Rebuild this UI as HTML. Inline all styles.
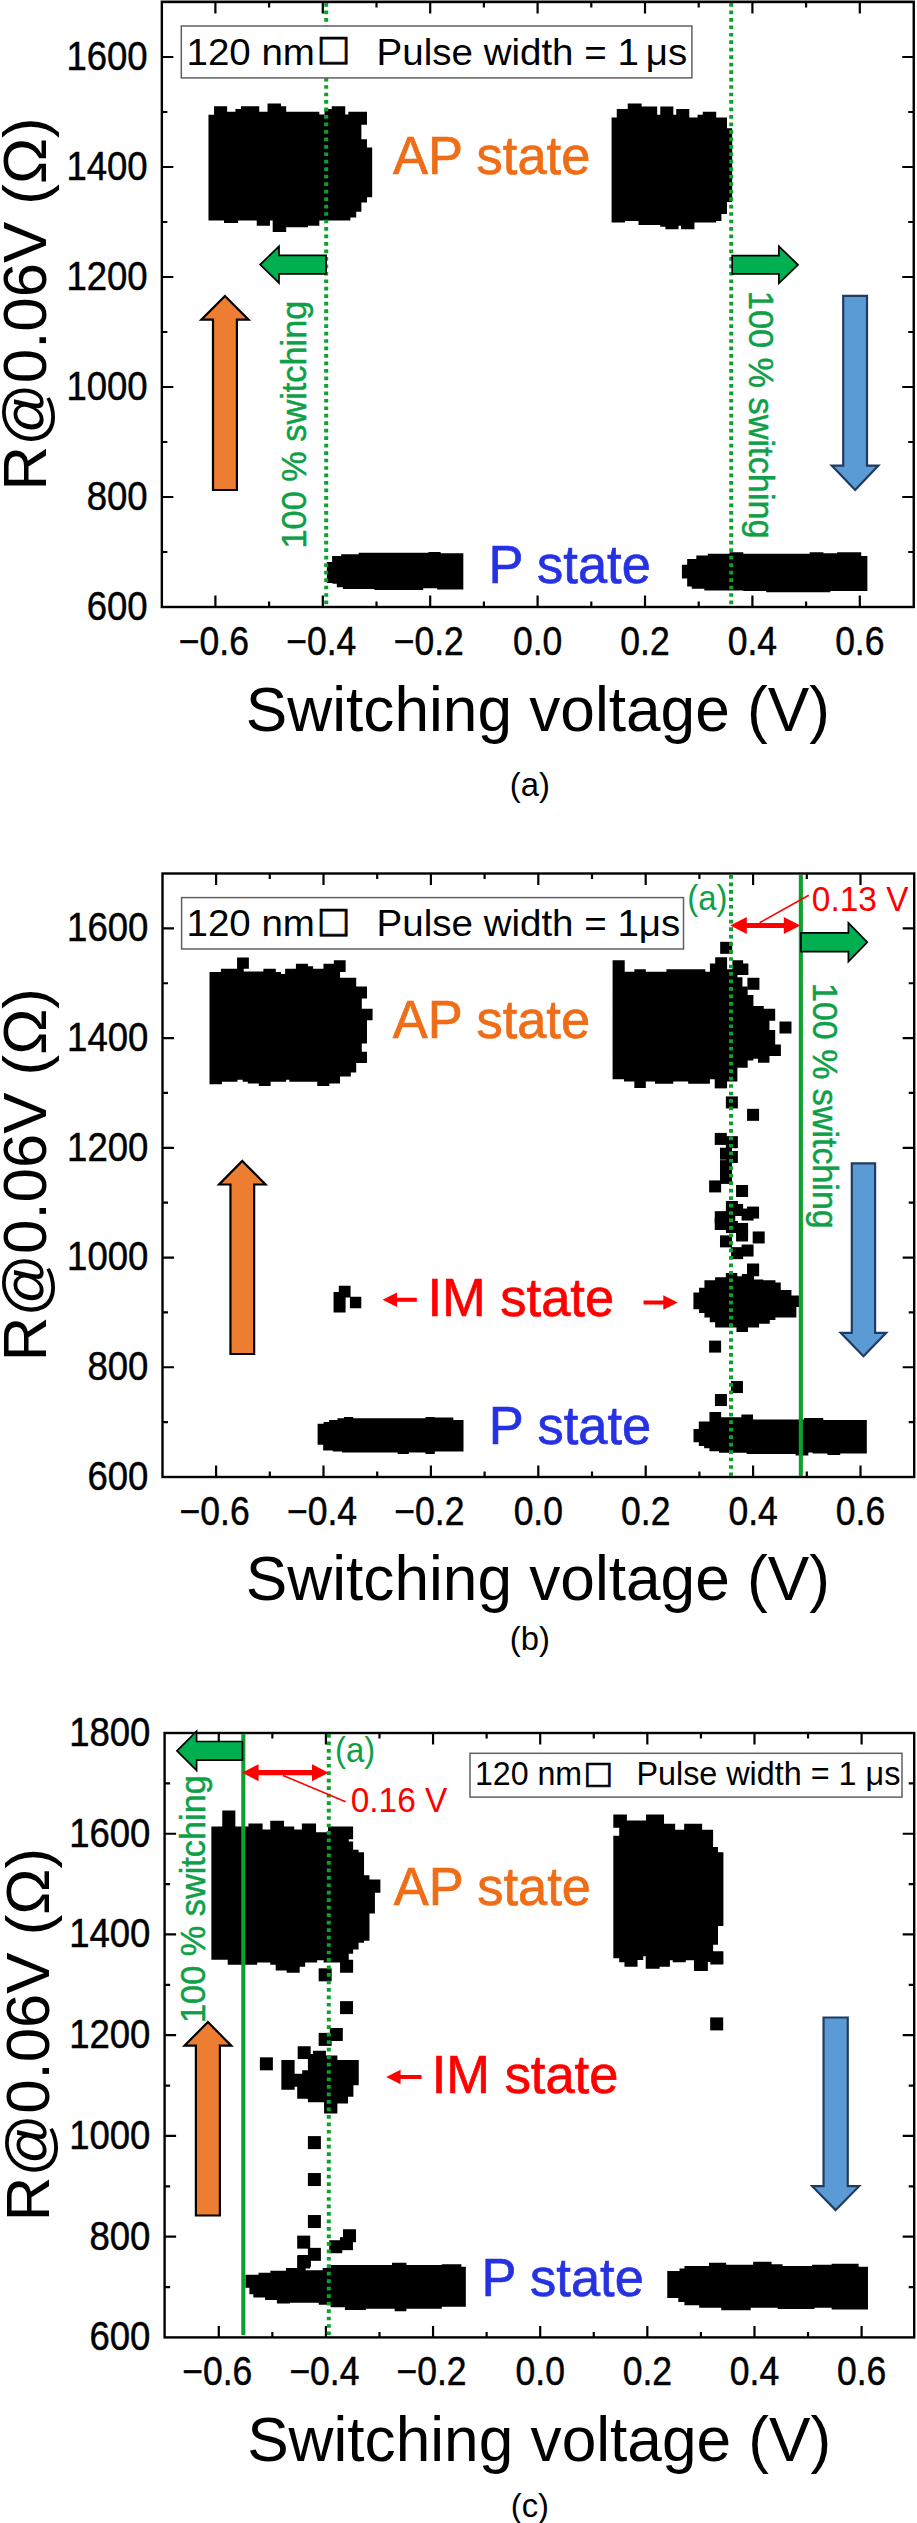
<!DOCTYPE html>
<html><head><meta charset="utf-8"><title>Switching voltage figure</title>
<style>html,body{margin:0;padding:0;background:#fff}svg{display:block}text{font-family:"Liberation Sans", "DejaVu Sans", sans-serif}</style>
</head><body>
<svg width="917" height="2523" viewBox="0 0 917 2523">
<rect width="917" height="2523" fill="#fff"/>
<rect x="160.6" y="0" width="754.3" height="1.2" fill="#aaa"/>
<g id="panel-a">
<polygon points="208.47,114.87 214.06,114.87 214.06,106.16 227.12,106.16 227.12,111.76 235.41,111.76 235.41,109.06 241,109.06 241,106.16 259.24,106.16 259.24,111.76 267.52,111.76 267.52,103.47 280.99,103.47 280.99,106.16 286.17,106.16 286.17,111.76 319.33,111.76 319.33,114.45 324.51,114.45 324.51,109.06 331.76,109.06 331.76,106.16 345.23,106.16 345.23,114.45 348.34,114.45 348.34,111.76 366.99,111.76 366.99,124.81 361.39,124.81 361.39,139.32 366.99,139.32 366.99,147.6 372.17,147.6 372.17,197.34 366.99,197.34 366.99,202.52 361.39,202.52 361.39,211.84 356.21,211.84 356.21,217.43 350.41,217.43 350.41,220.54 319.33,220.54 319.33,225.72 307.93,225.72 307.93,227.17 286.17,227.17 286.17,231.94 272.7,231.94 272.7,220.54 270.01,220.54 270.01,225.72 256.75,225.72 256.75,220.54 238.1,220.54 238.1,223.03 224.01,223.03 224.01,220.54 208.47,220.54" fill="#000"/>
<polygon points="611.58,117.56 616.76,117.56 616.76,109.06 627.74,109.06 627.74,103.47 641.62,103.47 641.62,106.58 657.16,106.58 657.16,114.87 660.27,114.87 660.27,106.58 673.33,106.58 673.33,114.87 676.23,114.87 676.23,109.06 689.28,109.06 689.28,117.56 697.57,117.56 697.57,114.87 702.75,114.87 702.75,111.76 716.22,111.76 716.22,117.56 726.99,117.56 726.99,128.33 732.17,128.33 732.17,201.89 726.99,201.89 726.99,213.91 721.4,213.91 721.4,220.96 716.22,220.96 716.22,222.62 694.46,222.62 694.46,229.25 680.99,229.25 680.99,225.72 678.51,225.72 678.51,229.25 665.45,229.25 665.45,226.76 660.27,226.76 660.27,225.1 638.51,225.1 638.51,220.96 625.05,220.96 625.05,222.62 611.58,222.62" fill="#000"/>
<polygon points="326.87,562.05 332.1,562.05 332.1,555.94 341.17,555.94 341.17,554.19 358.62,554.19 358.62,552.8 428.42,552.8 428.42,552.1 440.63,552.1 440.63,553.32 463.32,553.32 463.32,589.44 437.14,589.44 437.14,588.22 423.18,588.22 423.18,589.96 374.33,589.96 374.33,589.09 342.92,589.09 342.92,587.35 336.81,587.35 336.81,583.86 332.45,583.86 332.45,582.98 326.87,582.98" fill="#000"/>
<polygon points="681.91,564.77 687.17,564.77 687.17,559.04 696.33,559.04 696.33,555.61 707.78,555.61 707.78,553.78 729.54,553.78 729.54,552.17 743.28,552.17 743.28,553.78 809.68,553.78 809.68,552.17 823.42,552.17 823.42,553.32 837.16,553.32 837.16,552.17 861.21,552.17 861.21,556.07 867.39,556.07 867.39,591.1 830.29,591.1 830.29,592.25 766.18,592.25 766.18,591.1 743.28,591.1 743.28,590.42 704.35,590.42 704.35,588.81 691.75,588.81 691.75,586.52 687.17,586.52 687.17,578.51 681.91,578.51" fill="#000"/>
<path d="M215.4 607v-11.5M215.4 2v11.5M269.1 607v-5.5M269.1 2v5.5M322.8 607v-11.5M322.8 2v11.5M376.5 607v-5.5M376.5 2v5.5M430.2 607v-11.5M430.2 2v11.5M483.9 607v-5.5M483.9 2v5.5M537.6 607v-11.5M537.6 2v11.5M591.3 607v-5.5M591.3 2v5.5M645 607v-11.5M645 2v11.5M698.7 607v-5.5M698.7 2v5.5M752.4 607v-11.5M752.4 2v11.5M806.1 607v-5.5M806.1 2v5.5M859.8 607v-11.5M859.8 2v11.5M161.85 57h11.5M913.75 57h-11.5M161.85 167h11.5M913.75 167h-11.5M161.85 277h11.5M913.75 277h-11.5M161.85 387h11.5M913.75 387h-11.5M161.85 497h11.5M913.75 497h-11.5M161.85 112h5.5M913.75 112h-5.5M161.85 222h5.5M913.75 222h-5.5M161.85 332h5.5M913.75 332h-5.5M161.85 442h5.5M913.75 442h-5.5M161.85 552h5.5M913.75 552h-5.5" stroke="#000" stroke-width="2.2" fill="none"/>
<rect x="161.85" y="2" width="751.9" height="605" fill="none" stroke="#000" stroke-width="2.4"/>
<text transform="translate(147.65 69.9) scale(0.915 1)" font-size="39.9" text-anchor="end" stroke="#000" stroke-width="0.5">1600</text>
<text transform="translate(147.65 179.9) scale(0.915 1)" font-size="39.9" text-anchor="end" stroke="#000" stroke-width="0.5">1400</text>
<text transform="translate(147.65 289.9) scale(0.915 1)" font-size="39.9" text-anchor="end" stroke="#000" stroke-width="0.5">1200</text>
<text transform="translate(147.65 399.9) scale(0.915 1)" font-size="39.9" text-anchor="end" stroke="#000" stroke-width="0.5">1000</text>
<text transform="translate(147.65 509.9) scale(0.915 1)" font-size="39.9" text-anchor="end" stroke="#000" stroke-width="0.5">800</text>
<text transform="translate(147.65 619.9) scale(0.915 1)" font-size="39.9" text-anchor="end" stroke="#000" stroke-width="0.5">600</text>
<text transform="translate(213.9 654.8) scale(0.89 1)" font-size="39.9" text-anchor="middle" stroke="#000" stroke-width="0.5">−0.6</text>
<text transform="translate(321.3 654.8) scale(0.89 1)" font-size="39.9" text-anchor="middle" stroke="#000" stroke-width="0.5">−0.4</text>
<text transform="translate(428.7 654.8) scale(0.89 1)" font-size="39.9" text-anchor="middle" stroke="#000" stroke-width="0.5">−0.2</text>
<text transform="translate(537.6 654.8) scale(0.89 1)" font-size="39.9" text-anchor="middle" stroke="#000" stroke-width="0.5">0.0</text>
<text transform="translate(645 654.8) scale(0.89 1)" font-size="39.9" text-anchor="middle" stroke="#000" stroke-width="0.5">0.2</text>
<text transform="translate(752.4 654.8) scale(0.89 1)" font-size="39.9" text-anchor="middle" stroke="#000" stroke-width="0.5">0.4</text>
<text transform="translate(859.8 654.8) scale(0.89 1)" font-size="39.9" text-anchor="middle" stroke="#000" stroke-width="0.5">0.6</text>
<text x="537.9" y="730.8" font-size="62.2" text-anchor="middle">Switching voltage (V)</text>
<text transform="translate(45.6 303.9) rotate(-90)" font-size="61.75" text-anchor="middle">R@0.06V (Ω)</text>
<text x="529.9" y="796" font-size="32.8" text-anchor="middle">(a)</text>
<line x1="326.2" y1="3" x2="326.2" y2="605" stroke="#0ea02d" stroke-width="4" stroke-dasharray="3.7 3.77"/>
<line x1="731.2" y1="3" x2="731.2" y2="605" stroke="#0ea02d" stroke-width="4" stroke-dasharray="3.7 3.77"/>
<rect x="181.3" y="26" width="510.6" height="51.9" fill="#fff" stroke="#606060" stroke-width="1.5"/>
<text transform="translate(186.5 64.7) scale(1.03 1)" font-size="37.4">120 nm</text>
<text x="317" y="59.92" font-size="35.46" stroke="#000" stroke-width="0.8" style="font-family:'DejaVu Sans',sans-serif">□</text>
<text transform="translate(376.6 64.7) scale(1.03 1)" font-size="37.4">Pulse width = 1 <tspan dx="-3.6">μs</tspan></text>
<polygon points="260.2,264.6 279,282.9 279,273.8 326.1,273.8 326.1,255.4 279,255.4 279,246.3" fill="#00b050" stroke="#000" stroke-width="1.7" stroke-linejoin="miter"/>
<polygon points="798,264.8 778.9,283.3 778.9,273.9 732.2,273.9 732.2,255.7 778.9,255.7 778.9,246.3" fill="#00b050" stroke="#000" stroke-width="1.7" stroke-linejoin="miter"/>
<polygon points="224.95,296 248.55,319.7 236.9,319.7 236.9,490 213,490 213,319.7 201.35,319.7" fill="#ed7d31" stroke="#000" stroke-width="2.2" stroke-linejoin="miter"/>
<polygon points="855.1,489.95 878.4,465.6 867,465.6 867,295.9 843.2,295.9 843.2,465.6 831.8,465.6" fill="#5b9bd5" stroke="#1f3c60" stroke-width="2.2" stroke-linejoin="miter"/>
<text transform="translate(306 548.5) rotate(-90) scale(0.972 1)" font-size="35.3" fill="#0f9f48" stroke="#0f9f48" stroke-width="0.5" text-anchor="start">100 % switching</text>
<text transform="translate(748.5 290.8) rotate(90) scale(0.972 1)" font-size="35.3" fill="#0f9f48" stroke="#0f9f48" stroke-width="0.5" text-anchor="start">100 % switching</text>
<text transform="translate(393 174.1) scale(0.968 1)" font-size="54.2" fill="#ee6d16" stroke="#ee6d16" stroke-width="0.7">AP state</text>
<text transform="translate(488.5 583.4) scale(0.968 1)" font-size="54.2" fill="#2632e2" stroke="#2632e2" stroke-width="0.7">P state</text>
</g>
<g id="panel-b">
<polygon points="209.5,971.94 220.9,971.94 220.9,968.83 237.06,968.83 237.06,957.43 248.87,957.43 248.87,968.83 243.69,968.83 243.69,971.52 263.38,971.52 263.38,968.83 275.81,968.83 275.81,971.94 280.99,971.94 280.99,974.01 285.14,974.01 285.14,968.83 295.91,968.83 295.91,963.65 307.93,963.65 307.93,966.34 313.11,966.34 313.11,968.83 323.47,968.83 323.47,963.65 333.83,963.65 333.83,960.13 345.64,960.13 345.64,971.94 340.05,971.94 340.05,977.74 356.21,977.74 356.21,986.44 366.99,986.44 366.99,998.46 361.8,998.46 361.8,1008.82 372.58,1008.82 372.58,1020.22 366.99,1020.22 366.99,1043.43 361.8,1043.43 361.8,1051.71 366.99,1051.71 366.99,1063.11 356.21,1063.11 356.21,1072.43 350.82,1072.43 350.82,1076.58 340.05,1076.58 340.05,1083.42 329.27,1083.42 329.27,1085.9 317.25,1085.9 317.25,1081.76 289.28,1081.76 289.28,1079.69 286.17,1079.69 286.17,1081.76 270.63,1081.76 270.63,1085.9 258.82,1085.9 258.82,1083.42 247.84,1083.42 247.84,1081.76 242.66,1081.76 242.66,1079.69 237.48,1079.69 237.48,1081.76 221.94,1081.76 221.94,1084.25 209.5,1084.25" fill="#000"/>
<polygon points="612.59,960.19 624.73,960.19 624.73,971.64 634.35,971.64 634.35,969.35 645.8,969.35 645.8,971.64 666.41,971.64 666.41,969.35 705.34,969.35 705.34,971.64 709.92,971.64 709.92,963.62 715.18,963.62 715.18,957.21 727.09,957.21 727.09,969.35 732.36,969.35 732.36,960.19 743.12,960.19 743.12,963.62 748.39,963.62 748.39,975.07 737.39,975.07 737.39,977.36 742.43,977.36 742.43,986.52 747.7,986.52 747.7,995 753.42,995 753.42,1005.99 763.73,1005.99 763.73,1008.73 775.18,1008.73 775.18,1020.87 769.45,1020.87 769.45,1030.03 775.18,1030.03 775.18,1044.46 780.9,1044.46 780.9,1055.91 769.45,1055.91 769.45,1062.78 758,1062.78 758,1058.65 753.42,1058.65 753.42,1060.49 747.7,1060.49 747.7,1067.81 737.39,1067.81 737.39,1081.55 727.09,1081.55 727.09,1087.97 715.18,1087.97 715.18,1079.26 709.92,1079.26 709.92,1083.84 688.16,1083.84 688.16,1081.55 673.28,1081.55 673.28,1083.84 654.96,1083.84 654.96,1081.55 645.8,1081.55 645.8,1087.97 634.35,1087.97 634.35,1081.55 624.04,1081.55 624.04,1079.26 612.59,1079.26" fill="#000"/>
<rect x="720.17" y="941.82" width="12" height="12"/>
<rect x="747.42" y="977.77" width="12" height="12"/>
<rect x="779.48" y="1021.51" width="12" height="12"/>
<rect x="714.75" y="1076.38" width="12" height="12"/>
<rect x="725.87" y="1096.4" width="12" height="12"/>
<rect x="747.07" y="1108.84" width="12" height="12"/>
<rect x="714.75" y="1132.91" width="12" height="12"/>
<rect x="725.87" y="1136.18" width="12" height="12"/>
<rect x="719.99" y="1147.7" width="12" height="12"/>
<rect x="725.87" y="1150.97" width="12" height="12"/>
<rect x="719.99" y="1160.13" width="12" height="12"/>
<rect x="719.99" y="1171.91" width="12" height="12"/>
<rect x="709.12" y="1180.41" width="12" height="12"/>
<rect x="736.08" y="1184.99" width="12" height="12"/>
<rect x="725.87" y="1200.96" width="12" height="12"/>
<rect x="731.11" y="1203.97" width="12" height="12"/>
<rect x="741.58" y="1208.55" width="12" height="12"/>
<rect x="747.07" y="1206.58" width="12" height="12"/>
<rect x="714.75" y="1211.16" width="12" height="12"/>
<rect x="714.75" y="1217.97" width="12" height="12"/>
<rect x="723.26" y="1211.82" width="12" height="12"/>
<rect x="725.87" y="1220.98" width="12" height="12"/>
<rect x="736.08" y="1222.94" width="12" height="12"/>
<rect x="736.08" y="1229.48" width="12" height="12"/>
<rect x="752.7" y="1231.45" width="12" height="12"/>
<rect x="719.99" y="1235.37" width="12" height="12"/>
<rect x="731.11" y="1247.15" width="12" height="12"/>
<rect x="741.58" y="1244.53" width="12" height="12"/>
<rect x="747.07" y="1263.51" width="12" height="12"/>
<polygon points="693.44,1292.4 699.08,1292.4 699.08,1287.82 704.43,1287.82 704.43,1280.19 715.11,1280.19 715.11,1277.14 725.8,1277.14 725.8,1273.02 737.25,1273.02 737.25,1276.37 741.83,1276.37 741.83,1274.08 747.18,1274.08 747.18,1264.16 759.08,1264.16 759.08,1276.37 754.05,1276.37 754.05,1279.43 763.21,1279.43 763.21,1280.19 775.42,1280.19 775.42,1282.48 780.76,1282.48 780.76,1290.11 791.45,1290.11 791.45,1295.46 799.08,1295.46 799.08,1306.91 796.34,1306.91 796.34,1317.6 775.42,1317.6 775.42,1319.89 769.77,1319.89 769.77,1323.7 759.08,1323.7 759.08,1327.52 747.94,1327.52 747.94,1332.1 736.49,1332.1 736.49,1327.52 715.11,1327.52 715.11,1322.18 709.77,1322.18 709.77,1317.6 704.43,1317.6 704.43,1313.02 699.08,1313.02 699.08,1309.2 693.44,1309.2" fill="#000"/>
<rect x="709.11" y="1340.6" width="12" height="12"/>
<rect x="730.95" y="1381.06" width="12" height="12"/>
<rect x="714.92" y="1394.04" width="12" height="12"/>
<polygon points="317.61,1423.74 323.54,1423.74 323.54,1421.88 329.1,1421.88 329.1,1420.03 337.44,1420.03 337.44,1418.17 343.93,1418.17 343.93,1416.88 353.2,1416.88 353.2,1418.17 425.5,1418.17 425.5,1416.88 434.77,1416.88 434.77,1417.62 453.31,1417.62 453.31,1420.03 463.51,1420.03 463.51,1451.54 434.77,1451.54 434.77,1453.95 425.5,1453.95 425.5,1452.47 408.82,1452.47 408.82,1453.95 397.7,1453.95 397.7,1452.47 342.08,1452.47 342.08,1451.54 332.81,1451.54 332.81,1450.62 323.17,1450.62 323.17,1444.68 317.61,1444.68" fill="#000"/>
<polygon points="693.51,1429.02 698.82,1429.02 698.82,1421.58 709.45,1421.58 709.45,1412.01 721.15,1412.01 721.15,1417.33 741.35,1417.33 741.35,1414.56 753.05,1414.56 753.05,1419.45 804.08,1419.45 804.08,1417.97 823.22,1417.97 823.22,1420.09 866.81,1420.09 866.81,1453.48 840.23,1453.48 840.23,1454.97 827.47,1454.97 827.47,1453.48 812.59,1453.48 812.59,1452.42 808.34,1452.42 808.34,1455.6 795.58,1455.6 795.58,1454.12 746.67,1454.12 746.67,1452.84 719.02,1452.84 719.02,1451.35 709.45,1451.35 709.45,1448.16 704.14,1448.16 704.14,1446.04 698.82,1446.04 698.82,1442.21 693.51,1442.21" fill="#000"/>
<polygon points="333.55,1291.98 338.79,1291.98 338.79,1285.7 350.57,1285.7 350.57,1296.83 361.3,1296.83 361.3,1308.21 349.91,1308.21 349.91,1297.48 345.59,1297.48 345.59,1312.53 333.55,1312.53" fill="#000"/>
<path d="M216.1 1477v-11.5M216.1 873.5v11.5M269.8 1477v-5.5M269.8 873.5v5.5M323.5 1477v-11.5M323.5 873.5v11.5M377.2 1477v-5.5M377.2 873.5v5.5M430.9 1477v-11.5M430.9 873.5v11.5M484.6 1477v-5.5M484.6 873.5v5.5M538.3 1477v-11.5M538.3 873.5v11.5M592 1477v-5.5M592 873.5v5.5M645.7 1477v-11.5M645.7 873.5v11.5M699.4 1477v-5.5M699.4 873.5v5.5M753.1 1477v-11.5M753.1 873.5v11.5M806.8 1477v-5.5M806.8 873.5v5.5M860.5 1477v-11.5M860.5 873.5v11.5M162.5 928.36h11.5M914.2 928.36h-11.5M162.5 1038.09h11.5M914.2 1038.09h-11.5M162.5 1147.82h11.5M914.2 1147.82h-11.5M162.5 1257.55h11.5M914.2 1257.55h-11.5M162.5 1367.27h11.5M914.2 1367.27h-11.5M162.5 983.23h5.5M914.2 983.23h-5.5M162.5 1092.95h5.5M914.2 1092.95h-5.5M162.5 1202.68h5.5M914.2 1202.68h-5.5M162.5 1312.41h5.5M914.2 1312.41h-5.5M162.5 1422.14h5.5M914.2 1422.14h-5.5" stroke="#000" stroke-width="2.2" fill="none"/>
<rect x="162.5" y="873.5" width="751.7" height="603.5" fill="none" stroke="#000" stroke-width="2.4"/>
<text transform="translate(148.3 941.26) scale(0.915 1)" font-size="39.9" text-anchor="end" stroke="#000" stroke-width="0.5">1600</text>
<text transform="translate(148.3 1050.99) scale(0.915 1)" font-size="39.9" text-anchor="end" stroke="#000" stroke-width="0.5">1400</text>
<text transform="translate(148.3 1160.72) scale(0.915 1)" font-size="39.9" text-anchor="end" stroke="#000" stroke-width="0.5">1200</text>
<text transform="translate(148.3 1270.45) scale(0.915 1)" font-size="39.9" text-anchor="end" stroke="#000" stroke-width="0.5">1000</text>
<text transform="translate(148.3 1380.17) scale(0.915 1)" font-size="39.9" text-anchor="end" stroke="#000" stroke-width="0.5">800</text>
<text transform="translate(148.3 1489.9) scale(0.915 1)" font-size="39.9" text-anchor="end" stroke="#000" stroke-width="0.5">600</text>
<text transform="translate(214.6 1524.8) scale(0.89 1)" font-size="39.9" text-anchor="middle" stroke="#000" stroke-width="0.5">−0.6</text>
<text transform="translate(322 1524.8) scale(0.89 1)" font-size="39.9" text-anchor="middle" stroke="#000" stroke-width="0.5">−0.4</text>
<text transform="translate(429.4 1524.8) scale(0.89 1)" font-size="39.9" text-anchor="middle" stroke="#000" stroke-width="0.5">−0.2</text>
<text transform="translate(538.3 1524.8) scale(0.89 1)" font-size="39.9" text-anchor="middle" stroke="#000" stroke-width="0.5">0.0</text>
<text transform="translate(645.7 1524.8) scale(0.89 1)" font-size="39.9" text-anchor="middle" stroke="#000" stroke-width="0.5">0.2</text>
<text transform="translate(753.1 1524.8) scale(0.89 1)" font-size="39.9" text-anchor="middle" stroke="#000" stroke-width="0.5">0.4</text>
<text transform="translate(860.5 1524.8) scale(0.89 1)" font-size="39.9" text-anchor="middle" stroke="#000" stroke-width="0.5">0.6</text>
<text x="537.9" y="1600.3" font-size="62.2" text-anchor="middle">Switching voltage (V)</text>
<text transform="translate(45.6 1174.65) rotate(-90)" font-size="61.75" text-anchor="middle">R@0.06V (Ω)</text>
<text x="529.9" y="1649.5" font-size="32.8" text-anchor="middle">(b)</text>
<line x1="731" y1="875" x2="731" y2="1476" stroke="#0ea02d" stroke-width="4" stroke-dasharray="3.7 3.77"/>
<line x1="800.85" y1="875" x2="800.85" y2="1476" stroke="#0ea02d" stroke-width="4.1"/>
<rect x="181.6" y="897.6" width="501.9" height="51.4" fill="#fff" stroke="#606060" stroke-width="1.5"/>
<text transform="translate(186.5 936.3) scale(1.03 1)" font-size="37.4">120 nm</text>
<text x="317" y="931.52" font-size="35.46" stroke="#000" stroke-width="0.8" style="font-family:'DejaVu Sans',sans-serif">□</text>
<text transform="translate(376.6 936.3) scale(1.03 1)" font-size="37.4">Pulse width = 1μs</text>
<polygon points="867.3,942.2 848.4,961.6 848.4,951.6 801,951.6 801,932.8 848.4,932.8 848.4,922.8" fill="#00b050" stroke="#000" stroke-width="1.7" stroke-linejoin="miter"/>
<polygon points="242.3,1160.9 265.5,1184.5 254.15,1184.5 254.15,1354 230.45,1354 230.45,1184.5 219.1,1184.5" fill="#ed7d31" stroke="#000" stroke-width="2.2" stroke-linejoin="miter"/>
<polygon points="863.45,1356.2 886.15,1332.8 875.1,1332.8 875.1,1163.3 851.8,1163.3 851.8,1332.8 840.75,1332.8" fill="#5b9bd5" stroke="#1f3c60" stroke-width="2.2" stroke-linejoin="miter"/>
<text transform="translate(813.2 983) rotate(90) scale(0.972 1)" font-size="35.0" fill="#0f9f48" stroke="#0f9f48" stroke-width="0.5" text-anchor="start">100 % switching</text>
<text transform="translate(392.8 1037.5) scale(0.968 1)" font-size="54.2" fill="#ee6d16" stroke="#ee6d16" stroke-width="0.7">AP state</text>
<text transform="translate(488.8 1444.4) scale(0.968 1)" font-size="54.2" fill="#2632e2" stroke="#2632e2" stroke-width="0.7">P state</text>
<text transform="translate(427.5 1316.3) scale(0.968 1)" font-size="54.2" fill="#ff0000" stroke="#ff0000" stroke-width="0.7">IM state</text>
<text transform="translate(687.2 909.8) scale(0.93 1)" font-size="35.4" fill="#0f9f48" text-anchor="start">(a)</text>
<text transform="translate(811.8 910.8) scale(0.955 1)" font-size="35" fill="#ff0000" text-anchor="start">0.13 V</text>
<path d="M416.8 1297.85H397V1292.6L382.6 1299.8L397 1307V1301.75H416.8z" fill="#ff0000"/>
<path d="M643.5 1300.55H663.3V1295.3L677.7 1302.5L663.3 1309.7V1304.45H643.5z" fill="#ff0000"/>
<path d="M730.2 925.5L746.8 917V922.9H783.8V917L800.4 925.5L783.8 934V928.1H746.8V934z" fill="#ff0000"/>
<line x1="759.6" y1="922.8" x2="808.8" y2="895.2" stroke="#ff0000" stroke-width="1.6"/>
</g>
<g id="panel-c">
<polygon points="211.36,1826.61 222.26,1826.61 222.26,1810.47 235.35,1810.47 235.35,1826.61 248.44,1826.61 248.44,1823.56 262.61,1823.56 262.61,1829.44 270.25,1829.44 270.25,1820.72 283.99,1820.72 283.99,1826.61 294.24,1826.61 294.24,1829.44 301.87,1829.44 301.87,1823.56 316.05,1823.56 316.05,1832.28 328.04,1832.28 328.04,1826.61 353.12,1826.61 353.12,1839.26 348.76,1839.26 348.76,1841.44 353.12,1841.44 353.12,1849.73 358.58,1849.73 358.58,1852.34 364.03,1852.34 364.03,1875.25 369.48,1875.25 369.48,1879.61 380.39,1879.61 380.39,1892.69 374.93,1892.69 374.93,1913.41 369.48,1913.41 369.48,1940.68 364.03,1940.68 364.03,1942.86 358.58,1942.86 358.58,1949.4 353.12,1949.4 353.12,1953.76 348.76,1953.76 348.76,1959.65 353.12,1959.65 353.12,1972.74 340.04,1972.74 340.04,1962.49 323.68,1962.49 323.68,1960.31 317.14,1960.31 317.14,1962.49 305.14,1962.49 305.14,1966.85 299.69,1966.85 299.69,1972.74 286.6,1972.74 286.6,1970.56 275.7,1970.56 275.7,1964.67 270.25,1964.67 270.25,1962.49 257.16,1962.49 257.16,1964.67 227.72,1964.67 227.72,1959.65 211.36,1959.65" fill="#000"/>
<polygon points="613.32,1814.4 626.9,1814.4 626.9,1820.45 646.04,1820.45 646.04,1814.4 664.03,1814.4 664.03,1823.72 675.16,1823.72 675.16,1829.77 684.15,1829.77 684.15,1823.72 702.15,1823.72 702.15,1829.77 713.11,1829.77 713.11,1847.11 718.02,1847.11 718.02,1852.35 723.41,1852.35 723.41,1925.96 718.02,1925.96 718.02,1944.77 713.11,1944.77 713.11,1951.32 723.41,1951.32 723.41,1964.4 710.33,1964.4 710.33,1961.95 707.87,1961.95 707.87,1970.95 693.97,1970.95 693.97,1960.31 685.79,1960.31 685.79,1962.28 672.7,1962.28 672.7,1960.31 669.92,1960.31 669.92,1966.86 659.62,1966.86 659.62,1968.82 645.71,1968.82 645.71,1956.22 643.26,1956.22 643.26,1959.99 637.53,1959.99 637.53,1966.86 624.45,1966.86 624.45,1962.28 619.21,1962.28 619.21,1958.35 613.32,1958.35 613.32,1835.66 619.21,1835.66 619.21,1827.81 613.32,1827.81" fill="#000"/>
<rect x="318.65" y="1968.31" width="13" height="13"/>
<rect x="340.03" y="2001.13" width="13" height="13"/>
<rect x="329.8" y="2028" width="13" height="13"/>
<rect x="318.65" y="2032.89" width="13" height="13"/>
<rect x="259.87" y="2057.32" width="13" height="13"/>
<polygon points="281.34,2060 294.62,2060 294.62,2073.74 302.25,2073.74 302.25,2070.23 307.9,2070.23 307.9,2058.93 297.67,2058.93 297.67,2046.26 310.65,2046.26 310.65,2053.89 312.94,2053.89 312.94,2050.84 325.92,2050.84 325.92,2055.42 337.37,2055.42 337.37,2060 358.74,2060 358.74,2085.19 353.4,2085.19 353.4,2096.64 348.05,2096.64 348.05,2103.51 337.37,2103.51 337.37,2113.44 324.08,2113.44 324.08,2102.29 307.9,2102.29 307.9,2098.63 297.21,2098.63 297.21,2086.72 294.62,2086.72 294.62,2089.77 281.34,2089.77" fill="#000"/>
<rect x="307.89" y="2136.1" width="13" height="13"/>
<rect x="307.89" y="2173.04" width="13" height="13"/>
<rect x="307.89" y="2215.03" width="13" height="13"/>
<rect x="297.2" y="2235.64" width="13" height="13"/>
<rect x="307.89" y="2247.85" width="13" height="13"/>
<rect x="297.2" y="2255.48" width="13" height="13"/>
<rect x="343" y="2229.23" width="13" height="13"/>
<rect x="339.95" y="2237.16" width="13" height="13"/>
<rect x="329.26" y="2240.22" width="13" height="13"/>
<rect x="710.2" y="2017.4" width="13" height="13"/>
<polygon points="245.47,2274.63 258.55,2274.63 258.55,2272.8 270.33,2272.8 270.33,2270.7 286.03,2270.7 286.03,2268.09 297.81,2268.09 297.81,2255 310.9,2255 310.9,2266.78 305.66,2266.78 305.66,2270.18 322.67,2270.18 322.67,2268.09 330.52,2268.09 330.52,2264.95 392.03,2264.95 392.03,2262.85 406.42,2262.85 406.42,2264.95 441.75,2264.95 441.75,2264.16 461.38,2264.16 461.38,2266.78 465.83,2266.78 465.83,2306.82 441.75,2306.82 441.75,2308.65 406.42,2308.65 406.42,2311.27 394.64,2311.27 394.64,2308.65 365.86,2308.65 365.86,2309.96 344.92,2309.96 344.92,2307.34 330.52,2307.34 330.52,2304.73 318.75,2304.73 318.75,2302.63 289.96,2302.63 289.96,2303.42 276.87,2303.42 276.87,2300.01 265.1,2300.01 265.1,2297.4 253.32,2297.4 253.32,2294.26 249.39,2294.26 249.39,2287.71 245.47,2287.71" fill="#000"/>
<polygon points="667.27,2270.95 679.54,2270.95 679.54,2268.49 684.44,2268.49 684.44,2266.04 708.98,2266.04 708.98,2262.85 726.16,2262.85 726.16,2264.81 753.15,2264.81 753.15,2261.87 771.55,2261.87 771.55,2264.32 782.59,2264.32 782.59,2266.04 812.03,2266.04 812.03,2264.81 831.66,2264.81 831.66,2263.83 858.65,2263.83 858.65,2266.78 867.97,2266.78 867.97,2309.47 831.66,2309.47 831.66,2307.75 814.49,2307.75 814.49,2308.98 777.68,2308.98 777.68,2307.75 750.69,2307.75 750.69,2310.21 721.25,2310.21 721.25,2307.75 699.17,2307.75 699.17,2305.3 684.44,2305.3 684.44,2302.11 678.31,2302.11 678.31,2297.94 667.27,2297.94" fill="#000"/>
<path d="M218.78 2337.4v-11.5M218.78 1733v11.5M272.35 2337.4v-5.5M272.35 1733v5.5M325.92 2337.4v-11.5M325.92 1733v11.5M379.49 2337.4v-5.5M379.49 1733v5.5M433.06 2337.4v-11.5M433.06 1733v11.5M486.63 2337.4v-5.5M486.63 1733v5.5M540.2 2337.4v-11.5M540.2 1733v11.5M593.77 2337.4v-5.5M593.77 1733v5.5M647.34 2337.4v-11.5M647.34 1733v11.5M700.91 2337.4v-5.5M700.91 1733v5.5M754.48 2337.4v-11.5M754.48 1733v11.5M808.05 2337.4v-5.5M808.05 1733v5.5M861.62 2337.4v-11.5M861.62 1733v11.5M164.6 1833.73h11.5M914.2 1833.73h-11.5M164.6 1934.47h11.5M914.2 1934.47h-11.5M164.6 2035.2h11.5M914.2 2035.2h-11.5M164.6 2135.93h11.5M914.2 2135.93h-11.5M164.6 2236.67h11.5M914.2 2236.67h-11.5M164.6 1783.37h5.5M914.2 1783.37h-5.5M164.6 1884.1h5.5M914.2 1884.1h-5.5M164.6 1984.83h5.5M914.2 1984.83h-5.5M164.6 2085.57h5.5M914.2 2085.57h-5.5M164.6 2186.3h5.5M914.2 2186.3h-5.5M164.6 2287.03h5.5M914.2 2287.03h-5.5" stroke="#000" stroke-width="2.2" fill="none"/>
<rect x="164.6" y="1733" width="749.6" height="604.4" fill="none" stroke="#000" stroke-width="2.4"/>
<text transform="translate(150.4 1745.9) scale(0.915 1)" font-size="39.9" text-anchor="end" stroke="#000" stroke-width="0.5">1800</text>
<text transform="translate(150.4 1846.63) scale(0.915 1)" font-size="39.9" text-anchor="end" stroke="#000" stroke-width="0.5">1600</text>
<text transform="translate(150.4 1947.37) scale(0.915 1)" font-size="39.9" text-anchor="end" stroke="#000" stroke-width="0.5">1400</text>
<text transform="translate(150.4 2048.1) scale(0.915 1)" font-size="39.9" text-anchor="end" stroke="#000" stroke-width="0.5">1200</text>
<text transform="translate(150.4 2148.83) scale(0.915 1)" font-size="39.9" text-anchor="end" stroke="#000" stroke-width="0.5">1000</text>
<text transform="translate(150.4 2249.57) scale(0.915 1)" font-size="39.9" text-anchor="end" stroke="#000" stroke-width="0.5">800</text>
<text transform="translate(150.4 2350.3) scale(0.915 1)" font-size="39.9" text-anchor="end" stroke="#000" stroke-width="0.5">600</text>
<text transform="translate(217.28 2385.2) scale(0.89 1)" font-size="39.9" text-anchor="middle" stroke="#000" stroke-width="0.5">−0.6</text>
<text transform="translate(324.42 2385.2) scale(0.89 1)" font-size="39.9" text-anchor="middle" stroke="#000" stroke-width="0.5">−0.4</text>
<text transform="translate(431.56 2385.2) scale(0.89 1)" font-size="39.9" text-anchor="middle" stroke="#000" stroke-width="0.5">−0.2</text>
<text transform="translate(540.2 2385.2) scale(0.89 1)" font-size="39.9" text-anchor="middle" stroke="#000" stroke-width="0.5">0.0</text>
<text transform="translate(647.34 2385.2) scale(0.89 1)" font-size="39.9" text-anchor="middle" stroke="#000" stroke-width="0.5">0.2</text>
<text transform="translate(754.48 2385.2) scale(0.89 1)" font-size="39.9" text-anchor="middle" stroke="#000" stroke-width="0.5">0.4</text>
<text transform="translate(861.62 2385.2) scale(0.89 1)" font-size="39.9" text-anchor="middle" stroke="#000" stroke-width="0.5">0.6</text>
<text x="539.2" y="2460.7" font-size="62.2" text-anchor="middle">Switching voltage (V)</text>
<text transform="translate(48.8 2034.6) rotate(-90)" font-size="61.75" text-anchor="middle">R@0.06V (Ω)</text>
<text x="529.9" y="2517" font-size="32.8" text-anchor="middle">(c)</text>
<line x1="328.8" y1="1734" x2="328.8" y2="2335" stroke="#0ea02d" stroke-width="4" stroke-dasharray="3.7 3.77"/>
<line x1="243.3" y1="1734" x2="243.3" y2="2335" stroke="#0ea02d" stroke-width="4.1"/>
<rect x="470" y="1753.3" width="432" height="43.8" fill="#fff" stroke="#606060" stroke-width="1.5"/>
<text transform="translate(474.9 1784.7) scale(0.98 1)" font-size="32.8">120 nm</text>
<text x="583.5" y="1782.6" font-size="30.93" stroke="#000" stroke-width="0.8" style="font-family:'DejaVu Sans',sans-serif">□</text>
<text transform="translate(636.4 1784.7) scale(0.986 1)" font-size="32.8">Pulse width = 1 μs</text>
<polygon points="177,1750.8 196.6,1770.4 196.6,1760.1 242.4,1760.1 242.4,1741.5 196.6,1741.5 196.6,1731.2" fill="#00b050" stroke="#000" stroke-width="1.7" stroke-linejoin="miter"/>
<polygon points="207.9,2022.1 231.3,2045.7 219.9,2045.7 219.9,2215.5 195.9,2215.5 195.9,2045.7 184.5,2045.7" fill="#ed7d31" stroke="#000" stroke-width="2.2" stroke-linejoin="miter"/>
<polygon points="835.65,2210.1 859.15,2186.2 847.75,2186.2 847.75,2017.5 823.55,2017.5 823.55,2186.2 812.15,2186.2" fill="#5b9bd5" stroke="#1f3c60" stroke-width="2.2" stroke-linejoin="miter"/>
<text transform="translate(204.7 2023) rotate(-90) scale(0.972 1)" font-size="35.3" fill="#0f9f48" stroke="#0f9f48" stroke-width="0.5" text-anchor="start">100 % switching</text>
<text transform="translate(393.7 1905.2) scale(0.968 1)" font-size="54.2" fill="#ee6d16" stroke="#ee6d16" stroke-width="0.7">AP state</text>
<text transform="translate(481.5 2296.1) scale(0.968 1)" font-size="54.2" fill="#2632e2" stroke="#2632e2" stroke-width="0.7">P state</text>
<text transform="translate(431.8 2093.2) scale(0.968 1)" font-size="54.2" fill="#ff0000" stroke="#ff0000" stroke-width="0.7">IM state</text>
<text transform="translate(335.1 1761.6) scale(0.93 1)" font-size="35.4" fill="#0f9f48" text-anchor="start">(a)</text>
<text transform="translate(350.7 1812.1) scale(0.955 1)" font-size="35" fill="#ff0000" text-anchor="start">0.16 V</text>
<path d="M421.5 2075.05H400.6V2069.8L386.2 2077L400.6 2084.2V2078.95H421.5z" fill="#ff0000"/>
<path d="M242 1772.7L258.6 1764.2V1770.1H312V1764.2L328.6 1772.7L312 1781.2V1775.3H258.6V1781.2z" fill="#ff0000"/>
<line x1="283" y1="1775.4" x2="345.6" y2="1801.8" stroke="#ff0000" stroke-width="1.6"/>
</g>
</svg>
</body></html>
